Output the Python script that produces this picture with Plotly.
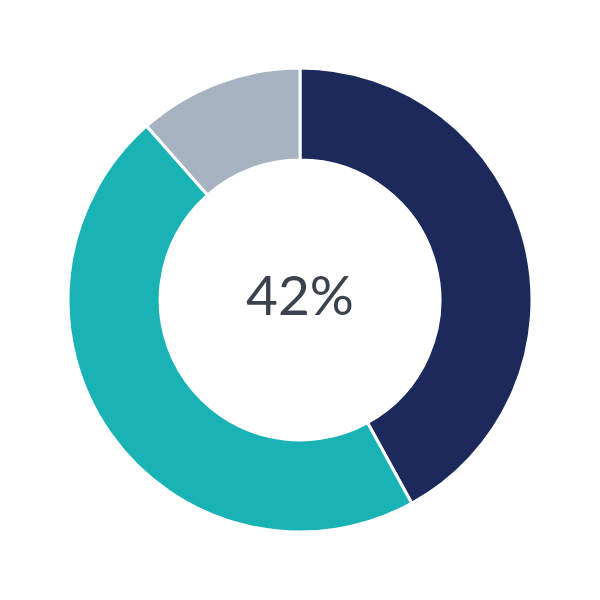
import plotly.graph_objects as go

labels = ["A", "B", "C"]
values = [42, 46.5, 11.5]
colors = ["#1b2a5b", "#1ab3b5", "#a8b3c2"]
center_text = "42%"

fig = go.Figure()

fig.add_trace(go.Pie(
    labels=labels,
    values=values,
    hole=0.603,
    sort=False,
    direction="clockwise",
    rotation=0,
    textinfo="none",
    hoverinfo="none",
    marker=dict(colors=colors, line=dict(color="white", width=3)),
    showlegend=False,
))

# page has 8px body margin, so shift the pie up/left to land at centre
fig.add_annotation(
    text=center_text, x=0.5, y=0.5, xref="paper", yref="paper", yshift=6,
    showarrow=False, font=dict(family="Lato", size=55, color="#3a424d"),
)

fig.update_layout(
    width=600, height=600,
    margin=dict(l=60, r=76, t=60, b=76),
    paper_bgcolor="white",
    plot_bgcolor="white",
)

fig.write_html("out.html")
